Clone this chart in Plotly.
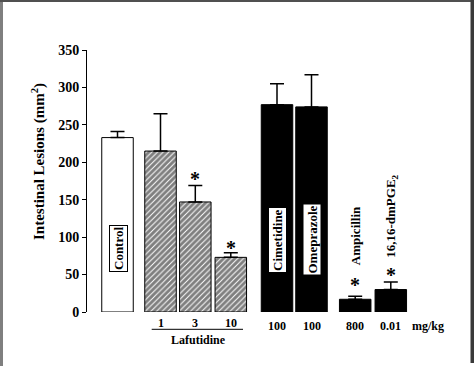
import plotly.graph_objects as go

# ---- data ----
groups = ["Control", "Lafutidine 1", "Lafutidine 3", "Lafutidine 10",
          "Cimetidine", "Omeprazole", "Ampicillin", "16,16-dmPGE2"]
values = [233, 215, 147, 73, 277, 274, 17, 30]
errors = [8, 50, 22, 6, 28, 43, 4, 10]
dose_labels = ["", "1", "3", "10", "100", "100", "800", "0.01"]
significant = [False, False, True, True, False, False, True, True]
y_ticks = [0, 50, 100, 150, 200, 250, 300, 350]

# ---- layout helpers (positions, not data) ----
x_pos = [30.5, 73.5, 108.3, 143.8, 190, 224.5, 268.2, 303.8]
BAR_W = 31.5
L, T, W, H = 87, 50, 360, 262   # plot area in px
FW, FH = 474, 366
SERIF = "Liberation Serif"

def pxx(px):
    return (px - L) / W

def pxy(py):
    return (T + H - py) / H

def yval(py):
    return (T + H - py) / H * 350

fig = go.Figure()

styles = {
    "open": dict(color="white", line=dict(color="black", width=1)),
    "hatch": dict(color="white", line=dict(color="black", width=1),
                  pattern=dict(shape="/", fgcolor="black", bgcolor="white",
                               size=4, solidity=0.75)),
    "solid": dict(color="black", line=dict(color="black", width=1)),
}
kind = ["open", "hatch", "hatch", "hatch", "solid", "solid", "solid", "solid"]

for i in range(len(groups)):
    fig.add_trace(go.Bar(
        x=[x_pos[i]], y=[values[i]], width=BAR_W,
        marker=styles[kind[i]],
        error_y=dict(type="data", array=[errors[i]], arrayminus=[0],
                     symmetric=False, color="black", thickness=1.5, width=7),
        showlegend=False, name=groups[i], hoverinfo="skip"))

ann = []
bold = dict(family=SERIF, color="black", weight="bold")

# dose labels (below the axis: paper coords so they are not hidden)
for i, lab in enumerate(dose_labels):
    if not lab:
        continue
    py = 322.7 if 1 <= i <= 3 else 326
    ann.append(dict(x=x_pos[i], yref="paper", y=pxy(py), text=lab, showarrow=False,
                    font=dict(size=12, **bold), xanchor="center", yanchor="middle"))
ann.append(dict(x=341.3, yref="paper", y=pxy(326), text="mg/kg", showarrow=False,
                font=dict(size=12, **bold), xanchor="center", yanchor="middle"))
ann.append(dict(x=111, yref="paper", y=pxy(339.5), text="Lafutidine", showarrow=False,
                font=dict(size=12, **bold), xanchor="center", yanchor="middle"))

# significance stars
star_py = {2: 176, 3: 245, 6: 281.7, 7: 272}
for i, py in star_py.items():
    if significant[i]:
        ann.append(dict(x=x_pos[i], y=yval(py + 3), text="*", showarrow=False,
                        font=dict(size=20, **bold), xanchor="center", yanchor="middle"))

# in-bar labels
boxed = [(0, "Control", 249), (4, "Cimetidine", 240), (5, "Omeprazole", 240)]
for i, txt, py in boxed:
    ann.append(dict(x=x_pos[i] + (0.5 if i == 0 else 0), y=yval(py), text=txt,
                    textangle=-90, showarrow=False,
                    font=dict(size=13, **bold), bgcolor="white",
                    bordercolor="black", borderwidth=1, borderpad=1,
                    xanchor="center", yanchor="middle"))
ann.append(dict(x=x_pos[6], y=yval(236), text="Ampicillin", textangle=-90,
                showarrow=False, font=dict(size=13, **bold),
                xanchor="center", yanchor="middle"))
ann.append(dict(x=x_pos[7], y=yval(216), text="16,16-dmPGE<sub>2</sub>", textangle=-90,
                showarrow=False, font=dict(size=13, **bold),
                xanchor="center", yanchor="middle"))

# y-axis title
ann.append(dict(xref="paper", yref="paper", x=pxx(38), y=pxy(162),
                text="Intestinal Lesions (mm<sup>2</sup>)", textangle=-90,
                showarrow=False, font=dict(size=15, **bold),
                xanchor="center", yanchor="middle"))

shapes = [
    # Lafutidine group line
    dict(type="line", xref="x", yref="paper", x0=64.7, x1=156,
         y0=pxy(329.3), y1=pxy(329.3), line=dict(color="black", width=1)),
    # frame bands
    dict(type="rect", xref="paper", yref="paper", x0=pxx(0), x1=pxx(3),
         y0=pxy(FH), y1=pxy(0), fillcolor="#7f7f7f", line=dict(width=0)),
    dict(type="rect", xref="paper", yref="paper", x0=pxx(0), x1=pxx(FW),
         y0=pxy(2), y1=pxy(0), fillcolor="#505050", line=dict(width=0)),
    dict(type="rect", xref="paper", yref="paper", x0=pxx(470.5), x1=pxx(FW),
         y0=pxy(363), y1=pxy(0), fillcolor="#3a3a3a", line=dict(width=0)),
]

fig.update_layout(
    width=FW, height=FH,
    margin=dict(l=L, r=FW - L - W, t=T, b=FH - T - H, pad=0),
    paper_bgcolor="white", plot_bgcolor="white",
    annotations=ann, shapes=shapes,
    bargap=0, hovermode=False,
    xaxis=dict(range=[0, W], visible=False, fixedrange=True),
    yaxis=dict(range=[0, 350], tickvals=y_ticks, ticks="outside", ticklen=4,
               tickwidth=1, tickcolor="black", showline=True, linecolor="black",
               linewidth=1, showgrid=False, zeroline=False, fixedrange=True,
               tickfont=dict(size=14, **bold)),
)

fig.write_html("out.html", config={"displayModeBar": False, "staticPlot": True},
               post_script="document.body.style.margin='0';document.body.style.overflow='hidden';")
